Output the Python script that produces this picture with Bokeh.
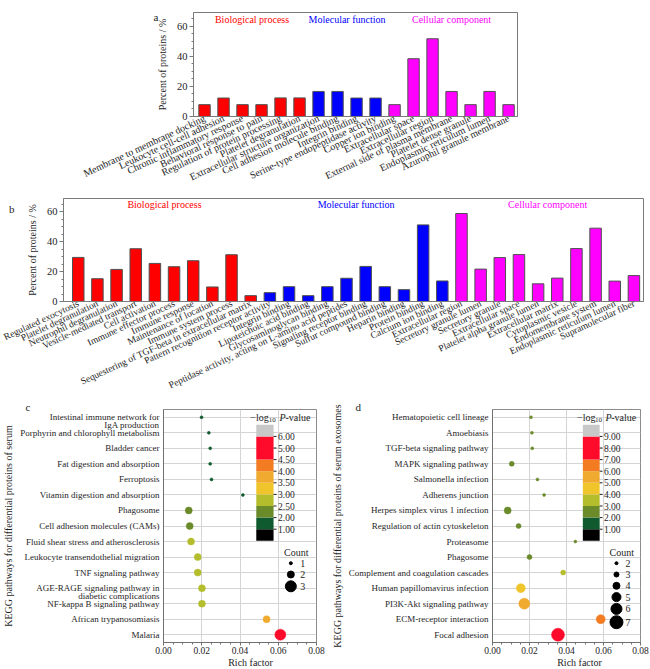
import math
from bisect import bisect_right

from bokeh.core.properties import value
from bokeh.embed import file_html
from bokeh.layouts import row
from bokeh.models import (FixedTicker, LinearAxis, NumeralTickFormatter, Range1d,
                          SingleIntervalTicker, Title)
from bokeh.plotting import figure
from bokeh.resources import INLINE

FONT = "Liberation Serif"
INK = "#1e1e1e"
FRAME = "#7a7a7a"

# ---------------- panel a ----------------
a_terms = ["Membrane to membrane docking", "Leukocyte cell-cell adhesion",
           "Chronic inflammatory response", "Behavioral response to pain",
           "Regulation of protein processing", "Platelet degranulation",
           "Extracellular structure organization", "Cell adhesion molecule binding",
           "Integrin binding", "Serine-type endopeptidase activity",
           "Copper ion binding", "Extracellular space", "Extracellular region",
           "External side of plasma membrane", "Platelet dense granule",
           "Endoplasmic reticulum lumen", "Azurophil granule membrane"]
a_values = [7.9, 12.3, 7.9, 7.9, 12.4, 12.4, 16.7, 16.7, 12.3, 12.3,
            7.9, 38.5, 51.8, 16.7, 7.9, 16.7, 7.9]
a_groups = (["Biological process"] * 6 + ["Molecular function"] * 4
            + ["Cellular component"] * 7)

# ---------------- panel b ----------------
b_terms = ["Regulated exocytosis", "Platelet degranulation", "Neutrophil degranulation",
           "Vesicle-mediated transport", "Cell activation", "Immune effector process",
           "Immune response", "Maintenance of location", "Immune system process",
           "Sequestering of TGF-beta in extracellular matrix",
           "Pattern recognition receptor activity", "Integrin binding",
           "Lipoteichoic acid binding", "Glycosaminoglycan binding",
           "Peptidase activity, acting on L-amino acid peptides",
           "Signaling receptor binding", "Sulfur compound binding", "Heparin binding",
           "Protein binding", "Calcium ion binding",
           "Extracellular region", "Secretory granule lumen", "Secretory granule",
           "Extracellular space", "Platelet alpha granule lumen", "Extracellular matrix",
           "Cytoplasmic vesicle", "Endomembrane system", "Endoplasmic reticulum lumen",
           "Supramolecular fiber"]
b_values = [29.4, 15.2, 21.4, 35.2, 25.4, 23.2, 27.2, 9.7, 31.2, 3.9,
            5.9, 9.9, 3.9, 9.9, 15.5, 23.4, 9.9, 7.9, 51.1, 13.7,
            58.7, 21.6, 29.3, 31.3, 11.8, 15.6, 35.3, 48.9, 13.6, 17.3]
b_groups = (["Biological process"] * 10 + ["Molecular function"] * 10
            + ["Cellular component"] * 10)

group_names = ["Biological process", "Molecular function", "Cellular component"]
group_colors = ["#ff0000", "#0000ff", "#ff00ff"]

# ---------------- panel c ----------------
c_paths = ["\nIntestinal immune network for\nIgA production",
           "Porphyrin and chlorophyll metabolism", "Bladder cancer",
           "Fat digestion and absorption", "Ferroptosis",
           "Vitamin digestion and absorption", "Phagosome",
           "Cell adhesion molecules (CAMs)", "Fluid shear stress and atherosclerosis",
           "Leukocyte transendothelial migration", "TNF signaling pathway",
           "\nAGE-RAGE signaling pathway in\ndiabetic complications",
           "NF-kappa B signaling pathway", "African trypanosomiasis", "Malaria"]
c_rich = [0.0199, 0.0237, 0.0244, 0.0244, 0.0251, 0.0415, 0.0132, 0.0137,
          0.0144, 0.0179, 0.0179, 0.0201, 0.0201, 0.0539, 0.0611]
c_count = [1, 1, 1, 1, 1, 1, 2, 2, 2, 2, 2, 2, 2, 2, 3]
c_logp = [1.6, 1.5, 1.5, 1.5, 1.5, 1.4, 2.3, 2.2, 2.7, 2.8, 2.8, 2.9, 2.9, 3.7, 5.2]
c_cb_ticks = [1.00, 2.00, 2.50, 3.00, 3.50, 4.00, 4.50, 5.00, 6.00]
c_legend_counts = [1, 2, 3]

# ---------------- panel d ----------------
d_paths = ["Hematopoietic cell lineage", "Amoebiasis", "TGF-beta signaling pathway",
           "MAPK signaling pathway", "Salmonella infection", "Adherens junction",
           "Herpes simplex virus 1 infection", "Regulation of actin cytoskeleton",
           "Proteasome", "Phagosome", "Complement and coagulation cascades",
           "Human papillomavirus infection", "PI3K-Akt signaling pathway",
           "ECM-receptor interaction", "Focal adhesion"]
d_rich = [0.0208, 0.0213, 0.0215, 0.0104, 0.0243, 0.0279, 0.0082, 0.0141,
          0.0448, 0.0200, 0.0382, 0.0153, 0.0172, 0.0585, 0.0354]
d_count = [2, 2, 2, 3, 2, 2, 4, 3, 2, 3, 3, 5, 6, 5, 7]
d_logp = [2.2, 2.2, 2.2, 2.5, 2.3, 2.4, 2.6, 2.7, 2.5, 2.9, 3.5, 4.5, 5.5, 6.5, 8.0]
d_cb_ticks = [1.00, 2.00, 3.00, 4.00, 5.00, 6.00, 7.00, 8.00, 9.00]
d_legend_counts = [2, 3, 4, 5, 6, 7]

# colour of each band of the stepped colour scale (below first tick ... above last)
cb_colors = ["#000000", "#0f5a2e", "#6b8b2b", "#b4bd2c", "#efc52b",
             "#efaa2f", "#f37b22", "#fe0a2a", "#fe0a2a", "#c8c8c8"]


def bar_panel(terms, vals, groups, fig_w, fig_h, bl, br, bt, bb, x_lo, x_hi, y_hi,
              label_size, letter, letter_y, letter_standoff, title_dy):
    n = len(terms)
    xs = list(range(1, n + 1))
    p = figure(width=fig_w, height=fig_h, x_range=Range1d(x_lo, x_hi),
               y_range=Range1d(0, y_hi), output_backend="svg", toolbar_location=None,
               min_border_left=bl, min_border_right=br, min_border_top=bt,
               min_border_bottom=bb)
    cmap = dict(zip(group_names, group_colors))
    p.vbar(x=xs, top=vals, width=0.6, fill_color=[cmap[g] for g in groups],
           line_color="#505050", line_width=1)
    for g, c in zip(group_names, group_colors):
        gx = [x for x, gg in zip(xs, groups) if gg == g]
        p.text(x=[sum(gx) / len(gx)], y=[y_hi], text=[g], text_color=c,
               text_font=value(FONT), text_font_size="10px", text_align="center",
               text_baseline="middle", y_offset=title_dy)
    p.xgrid.visible = False
    p.ygrid.visible = False
    p.outline_line_color = FRAME
    xa = p.xaxis[0]
    xa.ticker = FixedTicker(ticks=xs)
    xa.major_label_overrides = {x: t for x, t in zip(xs, terms)}
    xa.major_label_orientation = math.radians(25)
    xa.major_tick_line_color = None
    xa.minor_tick_line_color = None
    xa.major_tick_out = 0
    xa.major_label_standoff = 1
    xa.major_label_text_font = FONT
    xa.major_label_text_font_size = label_size
    xa.major_label_text_color = INK
    xa.axis_line_color = FRAME
    ya = p.yaxis[0]
    ya.ticker = SingleIntervalTicker(interval=20, num_minor_ticks=4)
    ya.major_tick_out = 4
    ya.major_tick_in = 0
    ya.minor_tick_out = 2
    ya.minor_tick_in = 0
    ya.major_tick_line_color = FRAME
    ya.minor_tick_line_color = FRAME
    ya.axis_line_color = FRAME
    ya.major_label_standoff = 2
    ya.major_label_text_font = FONT
    ya.major_label_text_font_size = "10.5px"
    ya.major_label_text_color = INK
    ya.axis_label = "Percent of proteins / %"
    ya.axis_label_text_font = FONT
    ya.axis_label_text_font_size = "10px"
    ya.axis_label_text_font_style = "normal"
    ya.axis_label_text_color = INK
    ya.axis_label_standoff = 6
    # panel letter: an outer axis carrying a single label
    la = LinearAxis(ticker=FixedTicker(ticks=[letter_y]),
                    major_label_overrides={letter_y: letter},
                    axis_line_color=None, major_tick_line_color=None,
                    minor_tick_line_color=None, major_tick_out=0,
                    major_label_standoff=letter_standoff,
                    major_label_text_font=FONT, major_label_text_font_size="11px",
                    major_label_text_color=INK)
    p.add_layout(la, "left")
    return p


def kegg_panel(paths, rich, counts, logp, cb_ticks, leg_counts, size_a, size_b,
               fig_w, bl, frame_w, letter, letter_offset, ytitle):
    FH, BT, BB = 233, 9, 27
    fig_h = FH + BT + BB
    br = fig_w - bl - frame_w
    n = len(paths)
    rows = list(range(n))
    p = figure(width=fig_w, height=fig_h, x_range=Range1d(0, 0.08),
               y_range=Range1d(n - 0.5, -0.5), output_backend="svg",
               toolbar_location=None, min_border_left=bl, min_border_right=br,
               min_border_top=BT, min_border_bottom=BB)
    p.extra_x_ranges = {"px": Range1d(0, frame_w)}
    p.extra_y_ranges = {"px": Range1d(FH, 0)}
    p.outline_line_color = "#8c8c8c"
    p.xgrid.grid_line_color = "#d4d4d4"
    p.ygrid.grid_line_color = "#d4d4d4"

    # panel letter as the plot title, pulled down next to the frame
    p.title.text = letter
    p.title.align = "left"
    p.title.offset = letter_offset
    p.title.vertical_align = "middle"
    p.title.standoff = -8
    p.title.text_font = FONT
    p.title.text_font_size = "11px"
    p.title.text_font_style = "normal"
    p.title.text_color = INK

    xa = p.xaxis[0]
    xa.ticker = SingleIntervalTicker(interval=0.02, num_minor_ticks=4)
    xa.formatter = NumeralTickFormatter(format="0.00")
    xa.major_tick_out = 3
    xa.major_tick_in = 0
    xa.minor_tick_out = 2
    xa.minor_tick_in = 0
    xa.axis_line_color = "#707070"
    xa.major_tick_line_color = "#707070"
    xa.minor_tick_line_color = "#707070"
    xa.major_label_standoff = 1
    xa.major_label_text_font = FONT
    xa.major_label_text_font_size = "9.5px"
    xa.major_label_text_color = INK
    p.add_layout(Title(text="Rich factor", align="left", offset=64.7,
                       vertical_align="middle", standoff=-2, text_font=FONT,
                       text_font_size="10px", text_font_style="normal",
                       text_color=INK), "below")

    ya = p.yaxis[0]
    ya.ticker = FixedTicker(ticks=rows)
    ya.major_label_overrides = {r: t for r, t in zip(rows, paths)}
    ya.major_tick_line_color = None
    ya.minor_tick_line_color = None
    ya.major_tick_out = 0
    ya.major_label_standoff = 4
    ya.axis_line_color = "#707070"
    ya.major_label_text_font = FONT
    ya.major_label_text_font_size = "9px"
    ya.major_label_text_line_height = 0.8
    ya.major_label_text_color = INK
    ya.axis_label = ytitle
    ya.axis_label_text_font = FONT
    ya.axis_label_text_font_size = "10px"
    ya.axis_label_text_font_style = "normal"
    ya.axis_label_text_color = INK
    ya.axis_label_standoff = 3

    colors = [cb_colors[bisect_right(cb_ticks, v)] for v in logp]
    sizes = [size_a * c + size_b for c in counts]
    p.scatter(x=rich, y=rows, size=sizes, fill_color=colors, line_color=colors,
              line_width=0.5)

    # stepped colour scale (pixel coordinates inside the frame)
    cb_l, cb_w, base, step = 94.0, 17.5, 119.7, 11.6
    nt = len(cb_ticks)
    ty = [base - step * k for k in range(nt)]
    tops = [base - step * (j + 1) for j in range(-1, nt)]
    bots = [base - step * j for j in range(-1, nt)]
    p.quad(left=[cb_l] * len(tops), right=[cb_l + cb_w] * len(tops), top=tops,
           bottom=bots, fill_color=cb_colors, line_color=None,
           x_range_name="px", y_range_name="px")
    p.segment(x0=[cb_l + cb_w] * nt, x1=[cb_l + cb_w + 3] * nt, y0=ty, y1=ty,
              line_color=INK, line_width=1, x_range_name="px", y_range_name="px")
    p.text(x=[cb_l + cb_w + 4.5] * nt, y=ty, text=[f"{t:.2f}" for t in cb_ticks],
           text_font=value(FONT), text_font_size="9.5px", text_color=INK,
           text_baseline="middle", text_align="left",
           x_range_name="px", y_range_name="px")
    tx, tyy = cb_l - 6, 7.7
    p.text(x=[tx], y=[tyy], text=["\u2212log"], text_font=value(FONT),
           text_font_size="10px", text_color=INK, text_baseline="middle",
           x_range_name="px", y_range_name="px")
    p.text(x=[tx + 18.6], y=[tyy], text=["10"], text_font=value(FONT),
           text_font_size="7px", text_color=INK, text_baseline="middle", y_offset=3,
           x_range_name="px", y_range_name="px")
    p.text(x=[tx + 29.5], y=[tyy], text=["P"], text_font=value(FONT),
           text_font_size="10px", text_font_style="italic", text_color=INK,
           text_baseline="middle", x_range_name="px", y_range_name="px")
    p.text(x=[tx + 35.6], y=[tyy], text=["-value"], text_font=value(FONT),
           text_font_size="10px", text_color=INK, text_baseline="middle",
           x_range_name="px", y_range_name="px")

    # size legend
    p.text(x=[134.5], y=[142.7], text=["Count"], text_font=value(FONT),
           text_font_size="10px", text_color=INK, text_align="center",
           text_baseline="middle", x_range_name="px", y_range_name="px")
    lsz = [size_a * c + size_b for c in leg_counts]
    ly = [153.7]
    for k in range(1, len(lsz)):
        ly.append(ly[-1] + (max(lsz[k - 1], 10) + max(lsz[k], 10)) / 2 + 1.3)
    p.scatter(x=[129] * len(lsz), y=ly, size=lsz, fill_color="#000000",
              line_color="#000000", x_range_name="px", y_range_name="px")
    p.text(x=[138.5] * len(lsz), y=ly, text=[str(c) for c in leg_counts],
           text_font=value(FONT), text_font_size="10px", text_color=INK,
           text_baseline="middle", x_range_name="px", y_range_name="px")
    return p


pa = bar_panel(a_terms, a_values, a_groups, fig_w=650, fig_h=194, bl=193, br=133,
               bt=12, bb=78, x_lo=0.42, x_hi=17.47, y_hi=69.3, label_size="10px",
               letter="a", letter_y=66.5, letter_standoff=-5, title_dy=7.3)
pb = bar_panel(b_terms, b_values, b_groups, fig_w=650, fig_h=206, bl=63, br=7,
               bt=4, bb=99, x_lo=0.23, x_hi=30.5, y_hi=68.7, label_size="9.6px",
               letter="b", letter_y=61.4, letter_standoff=9, title_dy=6)
pc = kegg_panel(c_paths, c_rich, c_count, c_logp, c_cb_ticks, c_legend_counts, 4, -1,
                fig_w=328, bl=161, frame_w=155, letter="c", letter_offset=-138,
                ytitle="KEGG pathways for differential proteins of serum")
pd_ = kegg_panel(d_paths, d_rich, d_count, d_logp, d_cb_ticks, d_legend_counts, 2, -1,
                 fig_w=322, bl=158, frame_w=154, letter="d", letter_offset=-137,
                 ytitle="KEGG pathways for differential proteins of serum exosomes")

open("out.html", "w").write(file_html([pa, pb, row(pc, pd_)], INLINE))
